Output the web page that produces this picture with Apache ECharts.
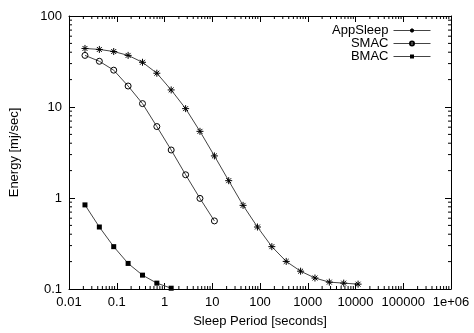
<!DOCTYPE html>
<html>
<head>
<meta charset="utf-8">
<script src="https://cdn.jsdelivr.net/npm/echarts@6/dist/echarts.min.js"></script>
<style>
html,body{margin:0;padding:0;background:#fff;}
#chart{width:474px;height:333px;}
</style>
</head>
<body>
<div id="chart"></div>
<script>
// ---- data ----
const sleepPeriods = [0.0216, 0.0432, 0.0864, 0.173, 0.346, 0.691, 1.38, 2.77, 5.53, 11.1,
                      22.1, 44.2, 88.5, 177, 354, 708, 1416, 2831, 5662, 11325];
const appSleep = [44.0, 42.9, 40.7, 36.9, 31.0, 23.5, 15.4, 9.6, 5.4, 2.9,
                  1.55, 0.83, 0.48, 0.292, 0.201, 0.157, 0.132, 0.119, 0.116, 0.113];
const smac = [36.9, 31.8, 25.4, 17.0, 10.9, 6.1, 3.37, 1.80, 0.99, 0.56];
const bmac = [0.84, 0.48, 0.292, 0.191, 0.142, 0.116, 0.102];
const seriesNames = ['AppSleep', 'SMAC', 'BMAC'];
const xTickLabels = ['0.01', '0.1', '1', '10', '100', '1000', '10000', '100000', '1e+06'];
const yTickLabels = ['0.1', '1', '10', '100'];
const minorMultipliers = [2, 3, 4, 5, 6, 7, 8, 9];

const FONT = 'Liberation Sans, Arial, Helvetica, sans-serif';
const xMin = Number(xTickLabels[0]), xMax = Number(xTickLabels[xTickLabels.length - 1]);
const yMin = Number(yTickLabels[0]), yMax = Number(yTickLabels[yTickLabels.length - 1]);
const xExp0 = Math.round(Math.log10(xMin));
const yExp0 = Math.round(Math.log10(yMin));

function pairs(xs, ys) { return ys.map((y, i) => [xs[i], y]); }

// minor tick positions (log decades)
const xMinor = [], yMinor = [];
for (let i = 0; i < xTickLabels.length - 1; i++) {
  const base = Number(xTickLabels[i]);
  minorMultipliers.forEach(m => xMinor.push(base * m));
}
for (let i = 0; i < yTickLabels.length - 1; i++) {
  const base = Number(yTickLabels[i]);
  minorMultipliers.forEach(m => yMinor.push(base * m));
}

const axisLineStyle = { color: '#000', width: 1 };
const labelStyle = { color: '#000', fontSize: 13, fontFamily: FONT };
const lineColor = '#444';

const chart = echarts.init(document.getElementById('chart'), null, { renderer: 'canvas' });

const option = {
  animation: false,
  backgroundColor: '#fff',
  grid: { left: 67, right: 23, top: 16, bottom: 40, containLabel: false },
  legend: {
    data: seriesNames,
    orient: 'vertical',
    right: 38,
    top: 19,
    align: 'right',
    itemWidth: 37,
    itemHeight: 5,
    itemGap: 0,
    lineStyle: { width: 1, color: lineColor },
    textStyle: { color: '#000', fontSize: 13, lineHeight: 13, fontFamily: FONT }
  },
  xAxis: [{
    type: 'log', logBase: 10, min: xMin, max: xMax, interval: 1,
    name: 'Sleep Period [seconds]', nameLocation: 'middle', nameGap: 26,
    nameTextStyle: labelStyle,
    axisLine: { lineStyle: axisLineStyle },
    axisTick: { inside: true, length: 6, lineStyle: axisLineStyle },
    axisLabel: Object.assign({ margin: 7, formatter: v => xTickLabels[Math.round(Math.log10(v)) - xExp0] }, labelStyle),
    splitLine: { show: false }
  }, {
    type: 'log', logBase: 10, min: xMin, max: xMax, interval: 1, position: 'top',
    axisLine: { lineStyle: axisLineStyle },
    axisTick: { inside: true, length: 6, lineStyle: axisLineStyle },
    axisLabel: { show: false }, splitLine: { show: false }
  }],
  yAxis: [{
    type: 'log', logBase: 10, min: yMin, max: yMax, interval: 1,
    name: 'Energy [mj/sec]', nameLocation: 'middle', nameGap: 48, nameRotate: 90,
    nameTextStyle: labelStyle,
    axisLine: { lineStyle: axisLineStyle },
    axisTick: { inside: true, length: 6, lineStyle: axisLineStyle },
    axisLabel: Object.assign({ margin: 7, formatter: v => yTickLabels[Math.round(Math.log10(v)) - yExp0] }, labelStyle),
    splitLine: { show: false }
  }, {
    type: 'log', logBase: 10, min: yMin, max: yMax, interval: 1, position: 'right',
    axisLine: { lineStyle: axisLineStyle },
    axisTick: { inside: true, length: 6, lineStyle: axisLineStyle },
    axisLabel: { show: false }, splitLine: { show: false }
  }],
  series: [
    {
      name: seriesNames[0], type: 'line', data: pairs(sleepPeriods, appSleep),
      symbol: 'path://M0,5L10,5M5,0L5,10M1.5,1.5L8.5,8.5M8.5,1.5L1.5,8.5', symbolSize: 7,
      lineStyle: { color: lineColor, width: 1 },
      itemStyle: { color: 'transparent', borderColor: '#000', borderWidth: 1 },
      showAllSymbol: true
    },
    {
      name: seriesNames[1], type: 'line', data: pairs(sleepPeriods, smac),
      symbol: 'circle', symbolSize: 6,
      lineStyle: { color: lineColor, width: 1 },
      itemStyle: { color: 'transparent', borderColor: '#000', borderWidth: 1 }
    },
    {
      name: seriesNames[2], type: 'line', data: pairs(sleepPeriods, bmac),
      symbol: 'rect', symbolSize: 5,
      lineStyle: { color: lineColor, width: 1 },
      itemStyle: { color: '#000', borderColor: '#000', borderWidth: 0 }
    },
    {
      type: 'custom', silent: true, clip: false,
      data: [[xMin, yMin]],
      renderItem: function (params, api) {
        const children = [];
        const len = 3;
        const bottomY = api.coord([xMin, yMin])[1];
        const topY = api.coord([xMin, yMax])[1];
        const leftX = api.coord([xMin, yMin])[0];
        const rightX = api.coord([xMax, yMin])[0];
        xMinor.forEach(v => {
          const x = api.coord([v, yMin])[0];
          children.push({ type: 'line', shape: { x1: x, y1: bottomY, x2: x, y2: bottomY - len }, style: { stroke: '#000', lineWidth: 1 } });
          children.push({ type: 'line', shape: { x1: x, y1: topY, x2: x, y2: topY + len }, style: { stroke: '#000', lineWidth: 1 } });
        });
        yMinor.forEach(v => {
          const y = api.coord([xMin, v])[1];
          children.push({ type: 'line', shape: { x1: leftX, y1: y, x2: leftX + len, y2: y }, style: { stroke: '#000', lineWidth: 1 } });
          children.push({ type: 'line', shape: { x1: rightX, y1: y, x2: rightX - len, y2: y }, style: { stroke: '#000', lineWidth: 1 } });
        });
        return { type: 'group', children: children };
      }
    }
  ]
};
chart.setOption(option);
</script>
</body>
</html>
